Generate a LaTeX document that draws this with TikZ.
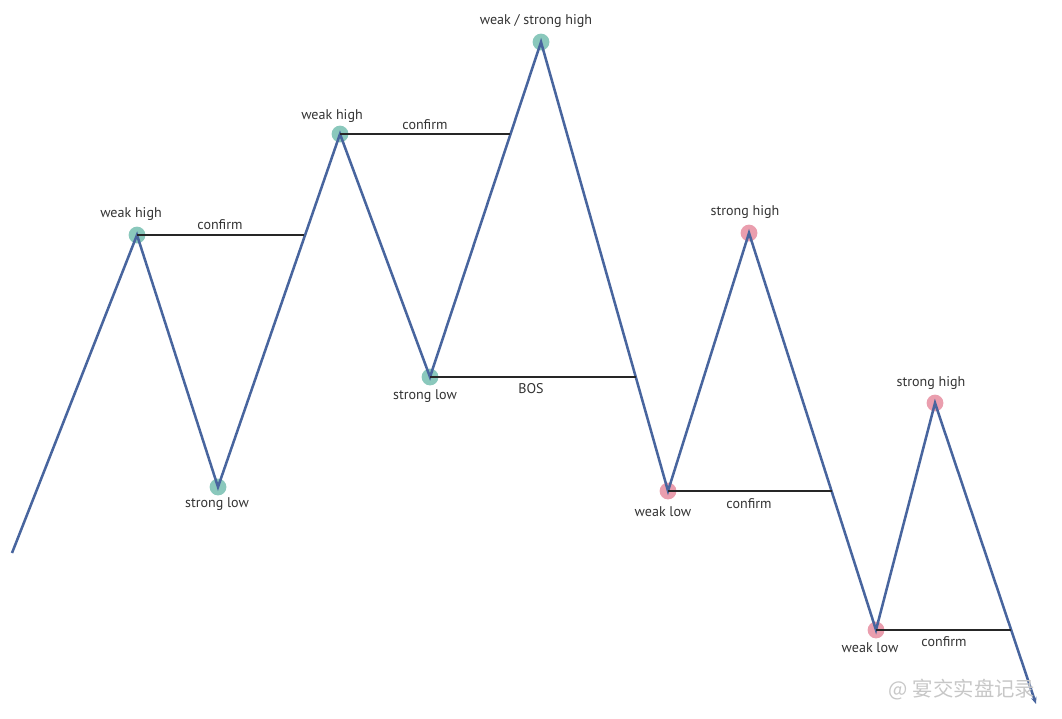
\documentclass[tikz,border=0pt]{standalone}
\usepackage{fontspec}
\setsansfont{PT Sans}
\newfontfamily\cjk{Noto Sans CJK SC}
\usepackage{xcolor}
\usetikzlibrary{arrows.meta,calc,positioning}

\definecolor{zigblue}{RGB}{72,101,158}
\definecolor{tealdot}{RGB}{138,200,188}
\definecolor{pinkdot}{RGB}{234,158,174}
\definecolor{lbltext}{RGB}{51,51,51}

\tikzset{
  tdot/.style={circle,fill=tealdot,minimum size=0.42cm,inner sep=0pt},
  pdot/.style={circle,fill=pinkdot,minimum size=0.42cm,inner sep=0pt},
  zig/.style={zigblue,line width=1.8pt,line join=miter},
  lvl/.style={black!85,line width=1.3pt},
  lbl/.style={text=lbltext,font=\sffamily\fontsize{10}{12}\selectfont,inner sep=1pt}
}

\begin{document}
\begin{tikzpicture}[x=0.025cm,y=-0.025cm,>=Stealth]
  \useasboundingbox (0,0) rectangle (1062,718);
  % swing points
  \coordinate (start) at (12,553);
  \node[tdot] (wh1) at (137,235) {};
  \node[tdot] (sl1) at (218,487) {};
  \node[tdot] (wh2) at (340,134) {};
  \node[tdot] (sl2) at (430,377) {};
  \node[tdot] (wsh) at (541,42) {};
  \node[pdot] (wl1) at (668,491) {};
  \node[pdot] (sh1) at (749,233) {};
  \node[pdot] (wl2) at (876,630) {};
  \node[pdot] (sh2) at (935,403) {};
  \coordinate (end) at (1036,704);
  % price path
  \draw[zig,-{Stealth[length=5pt,width=4pt]}] (start) -- (wh1.center) -- (sl1.center) -- (wh2.center)
    -- (sl2.center) -- (wsh.center) -- (wl1.center) -- (sh1.center)
    -- (wl2.center) -- (sh2.center) -- (end);
  % where the levels are crossed
  \coordinate (x1) at ($(sl1.center)!0.708!(wh2.center)$);
  \coordinate (x2) at ($(sl2.center)!0.719!(wsh.center)$);
  \coordinate (x3) at ($(wsh.center)!0.746!(wl1.center)$);
  \coordinate (x4) at ($(sh1.center)!0.650!(wl2.center)$);
  \coordinate (x5) at ($(sh2.center)!0.754!(end)$);
  \draw[lvl] (wh1.center) -- (wh1.center -| x1);
  \draw[lvl] (wh2.center) -- (wh2.center -| x2);
  \draw[lvl] (sl2.center) -- (sl2.center -| x3);
  \draw[lvl] (wl1.center) -- (wl1.center -| x4);
  \draw[lvl] (wl2.center) -- (wl2.center -| x5);
  % labels
  \node[lbl] (t1) at (131,214) {weak high};
  \node[lbl] (t2) at (220,225) {confirm};
  \node[lbl] (t3) at (217,504) {strong low};
  \node[lbl] (t4) at (332,116) {weak high};
  \node[lbl] (t5) at (425,125) {confirm};
  \node[lbl] (t6) at (425,396) {strong low};
  \node[lbl] (t7) at (536,21) {weak / strong high};
  \node[lbl] (t8) at (531,389) {BOS};
  \node[lbl] (t9) at (663,512) {weak low};
  \node[lbl] (t10) at (749,504) {confirm};
  \node[lbl] (t11) at (745,212) {strong high};
  \node[lbl] (t12) at (931,383) {strong high};
  \node[lbl] (t13) at (870,648) {weak low};
  \node[lbl] (t14) at (944,642) {confirm};
  \node[text=black!22,font=\cjk\fontsize{14.5}{16}\selectfont,anchor=west] (wm) at (884,690) {@ 宴交实盘记录};
\end{tikzpicture}
\end{document}
